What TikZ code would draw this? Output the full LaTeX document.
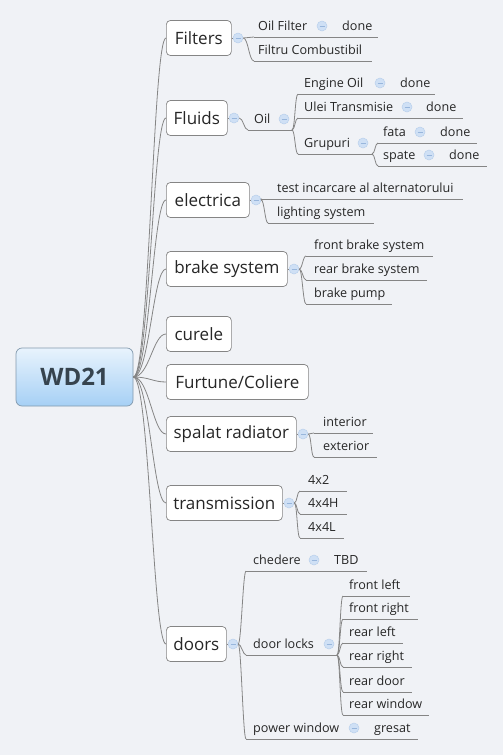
\documentclass[tikz,border=0pt]{standalone}
\usepackage{fontspec}
\setmainfont{Open Sans}
\definecolor{bgc}{HTML}{F0F2F6}
\definecolor{linec}{HTML}{858585}
\definecolor{boxc}{HTML}{858585}
\definecolor{txt}{HTML}{262626}
\definecolor{collf}{HTML}{CFE0F5}
\definecolor{colld}{HTML}{B9D0EC}
\definecolor{collm}{HTML}{98B6DC}
\definecolor{rootT}{HTML}{E8F3FD}
\definecolor{rootB}{HTML}{A6D0F5}
\definecolor{rootD}{HTML}{8299AD}
\definecolor{rootTxt}{HTML}{36434E}
% name, xtext, underline y, xleft, xright, text
\newcommand{\mmsub}[6]{%
  \coordinate (#1-l) at (#4,#3);
  \coordinate (#1-r) at (#5,#3);
  \draw[uline] (#1-l) -- (#1-r);
  \node[subtext, anchor=base west] (#1) at (#2,#3-7) {#6};
}
% name, x, y
\newcommand{\mmcoll}[3]{\node[coll] (#1) at (#2,#3) {};}
% from, to, k
\newcommand{\mmlink}[3]{\draw[conn] (#1) .. controls +(#3,0) and +(-#3,0) .. (#2);}
\begin{document}
\begin{tikzpicture}[x=1pt,y=-1pt,
  conn/.style={draw=linec, line width=0.8pt},
  uline/.style={draw=linec, line width=0.8pt},
  topic/.style={draw=boxc, fill=white, rounded corners=4pt, line width=0.7pt,
    minimum height=35pt, inner xsep=7pt, anchor=west, text=txt,
    font=\fontsize{17}{19}\selectfont},
  subtext/.style={inner sep=0pt, text=txt, font=\fontsize{12.6}{14}\selectfont},
  coll/.style={circle, minimum size=10pt, inner sep=0pt, fill=collf, draw=colld,
    line width=0.5pt,
    path picture={\draw[collm, line width=0.8pt]
      ([xshift=-2.5pt]path picture bounding box.center) --
      ([xshift=2.5pt]path picture bounding box.center);}},
  rootbox/.style={draw=rootD, rounded corners=6pt, line width=0.7pt,
    top color=rootT, bottom color=rootB, minimum width=117pt, minimum height=58pt,
    text=rootTxt, font=\fontsize{24}{26}\selectfont\bfseries},
]
\fill[bgc] (0,0) rectangle (503,755);
\useasboundingbox (0,0) rectangle (503,755);

% root
\node[rootbox] (root) at (74.5,377) {WD21};

% main topics
\node[topic, minimum width=65pt]  (filters)  at (166,38)  {Filters};
\node[topic, minimum width=61pt]  (fluids)   at (166,118) {Fluids};
\node[topic, minimum width=83pt]  (electrica) at (166,200) {electrica};
\node[topic, minimum width=121pt] (brake)    at (166,269) {brake system};
\node[topic, minimum width=65pt]  (curele)   at (166,334) {curele};
\node[topic, minimum width=142pt] (furtune)  at (166,382) {Furtune/Coliere};
\node[topic, minimum width=130pt] (spalat)   at (166,434) {spalat radiator};
\node[topic, minimum width=116pt] (trans)    at (166,503) {transmission};
\node[topic, minimum width=60pt]  (doors)    at (166,644) {doors};

\foreach \t in {filters,fluids,electrica,brake,curele,furtune,spalat,trans,doors}{
  \draw[conn] (root.east) .. controls +(16,0) and +(-13,0) .. (\t.west);
}

% collapse markers of main topics
\mmcoll{filters-c}{238}{38}
\mmcoll{fluids-c}{234}{118}
\mmcoll{electrica-c}{256}{200}
\mmcoll{brake-c}{294}{269}
\mmcoll{spalat-c}{303}{434}
\mmcoll{trans-c}{289}{503}
\mmcoll{doors-c}{233}{644}
\foreach \t in {filters,fluids,electrica,brake,spalat,trans,doors}{
  \draw[conn] (\t.east) -- (\t-c.west);
}

% Filters
\mmsub{oilf}{258}{37}{254}{330}{Oil Filter}
\mmsub{oilfd}{342}{37}{330}{378}{done}
\mmsub{filtru}{258}{61}{254}{372}{Filtru Combustibil}
\mmlink{filters-c.east}{oilf-l}{5}
\mmlink{filters-c.east}{filtru-l}{5}
\draw[conn] (oilf-r) -- (oilfd-l);
\mmcoll{oilf-c}{322}{26}

% Fluids
\mmsub{oil}{254}{130}{248}{292}{Oil}
\mmlink{fluids-c.east}{oil-l}{4}
\mmcoll{oil-c}{284}{119}
\mmsub{engine}{304}{94}{298}{390}{Engine Oil}
\mmsub{engined}{400}{94}{390}{435}{done}
\mmcoll{engine-c}{380}{83}
\mmsub{ulei}{304}{118}{298}{416}{Ulei Transmisie}
\mmsub{uleid}{426}{118}{416}{463}{done}
\mmcoll{ulei-c}{407}{107}
\mmsub{grupuri}{304}{154}{298}{372}{Grupuri}
\mmcoll{grupuri-c}{363}{143}
\mmlink{oil-r}{engine-l}{3}
\mmlink{oil-r}{ulei-l}{3}
\mmlink{oil-r}{grupuri-l}{3}
\mmsub{fata}{383}{143}{378}{430}{fata}
\mmsub{fatad}{440}{143}{430}{477}{done}
\mmcoll{fata-c}{420}{132}
\mmsub{spate}{383}{166}{378}{439}{spate}
\mmsub{spated}{449}{166}{439}{487}{done}
\mmcoll{spate-c}{429}{155}
\mmlink{grupuri-r}{fata-l}{3}
\mmlink{grupuri-r}{spate-l}{3}
\draw[conn] (engine-r) -- (engined-l);
\draw[conn] (ulei-r) -- (uleid-l);
\draw[conn] (fata-r) -- (fatad-l);
\draw[conn] (spate-r) -- (spated-l);

% electrica
\mmsub{test}{277}{199}{262}{463}{test incarcare al alternatorului}
\mmsub{light}{277}{223}{268}{374}{lighting system}
\mmlink{electrica-c.east}{test-l}{3}
\mmlink{electrica-c.east}{light-l}{3}

% brake system
\mmsub{fbs}{314}{256}{306}{433}{front brake system}
\mmsub{rbs}{314}{280}{306}{427}{rear brake system}
\mmsub{bp}{314}{304}{306}{392}{brake pump}
\mmlink{brake-c.east}{fbs-l}{3}
\mmlink{brake-c.east}{rbs-l}{3}
\mmlink{brake-c.east}{bp-l}{3}

% spalat radiator
\mmsub{interior}{323}{433}{314}{373}{interior}
\mmsub{exterior}{323}{457}{314}{377}{exterior}
\mmlink{spalat-c.east}{interior-l}{3}
\mmlink{spalat-c.east}{exterior-l}{3}

% transmission
\mmsub{tA}{308}{491}{300}{347}{4x2}
\mmsub{tB}{308}{514}{300}{347}{4x4H}
\mmsub{tC}{308}{538}{300}{344}{4x4L}
\mmlink{trans-c.east}{tA-l}{3}
\mmlink{trans-c.east}{tB-l}{3}
\mmlink{trans-c.east}{tC-l}{3}

% doors
\mmsub{chedere}{253}{571}{246}{322}{chedere}
\mmsub{tbd}{334}{571}{322}{367}{TBD}
\mmcoll{chedere-c}{314}{560}
\mmsub{locks}{253}{655}{246}{337}{door locks}
\mmcoll{locks-c}{329}{644}
\mmsub{pw}{253}{739}{246}{362}{power window}
\mmsub{gresat}{374}{739}{362}{418}{gresat}
\mmcoll{pw-c}{354}{728}
\mmlink{doors-c.east}{chedere-l}{3}
\mmlink{doors-c.east}{locks-l}{3}
\mmlink{doors-c.east}{pw-l}{3}
\draw[conn] (chedere-r) -- (tbd-l);
\draw[conn] (pw-r) -- (gresat-l);

\mmsub{fl}{349}{596}{343}{410}{front left}
\mmsub{fr}{349}{619}{343}{418}{front right}
\mmsub{rl}{349}{643}{343}{403}{rear left}
\mmsub{rr}{349}{667}{343}{412}{rear right}
\mmsub{rd}{349}{692}{343}{412}{rear door}
\mmsub{rw}{349}{715}{343}{429}{rear window}
\foreach \c in {fl,fr,rl,rr,rd,rw}{
  \mmlink{locks-r}{\c-l}{3}
}
\end{tikzpicture}
\end{document}
